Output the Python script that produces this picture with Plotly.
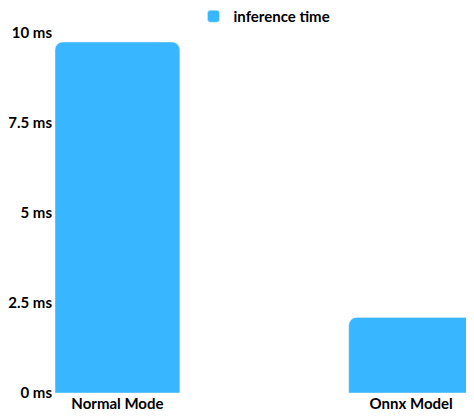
import plotly.graph_objects as go

categories = ["Normal Mode", "Onnx Model"]
inference_ms = [9.75, 2.1]
tick_vals = [0, 2.5, 5, 7.5, 10]
tick_text = ["0 ms", "2.5 ms", "5 ms", "7.5 ms", "10 ms"]

fig = go.Figure(go.Bar(x=[0, 1], y=inference_ms, name="inference time",
                       marker_color="#38b6ff", width=0.425, showlegend=True))
fig.update_layout(
    width=466, height=409, plot_bgcolor="white", paper_bgcolor="white",
    margin=dict(l=47, r=0, t=25, b=24, autoexpand=False),
    barcornerradius=8,
    font=dict(family="Lato", size=15, color="#000", weight="bold"),
    legend=dict(orientation="h", x=0.5, xanchor="center", y=1.0, yanchor="bottom",
                font=dict(size=15, weight="bold")),
    xaxis=dict(range=[-0.2125, 1.214], tickvals=[0, 1], ticktext=categories,
               showgrid=False, zeroline=False, showline=False, ticklen=0),
    yaxis=dict(range=[0, 10], tickvals=tick_vals, ticktext=tick_text,
               showgrid=False, zeroline=False, showline=False, ticklabelstandoff=2),
)
fig.write_html("out.html")
